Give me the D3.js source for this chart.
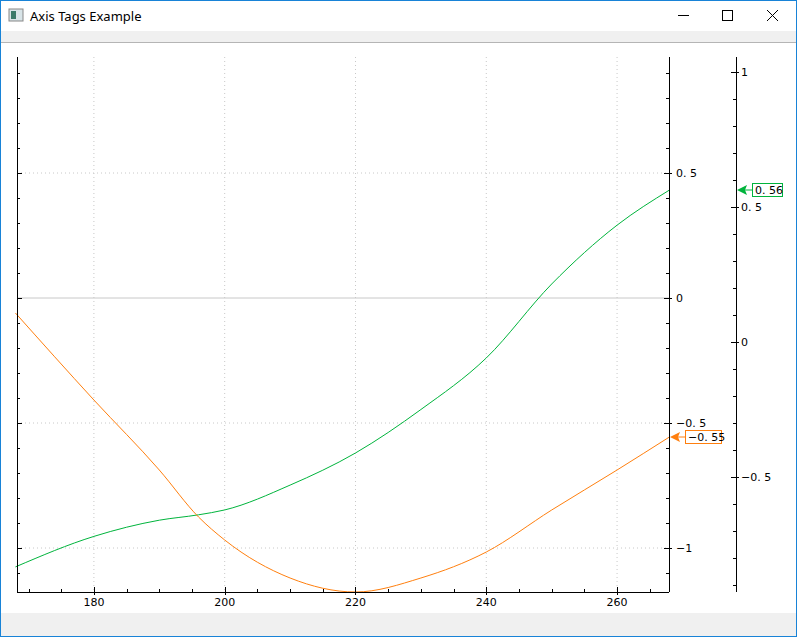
<!DOCTYPE html><html><head><meta charset="utf-8"><script src="https://cdn.jsdelivr.net/npm/d3@7"></script>
<style>body{margin:0;background:#fff}svg{display:block;font-family:"DejaVu Sans",sans-serif}</style></head><body><svg id="c" width="797" height="637"></svg>
<script>
const xs=[168,180,190,196,200,210,220,230,240,250,260,268];
const green=[-0.833,-0.72,-0.66,-0.64,-0.622,-0.53,-0.411,-0.25,-0.059,0.215,0.433,0.563];
const orange=[-0.06,-0.408,-0.688,-0.876,-0.968,-1.12,-1.176,-1.12,-1.016,-0.848,-0.688,-0.556];
const xTicks=[180,200,220,240,260];
const y1Ticks=[-1,-0.5,0,0.5];
const y2Ticks=[-0.5,0,0.5,1];
const greenTag="0.56", orangeTag="-0.55";
const svg=d3.select("#c");
// window chrome
svg.append("rect").attr("x",0.5).attr("y",0.5).attr("width",796).attr("height",636).attr("fill","#fff").attr("stroke","#1883d7");
svg.append("rect").attr("x",1).attr("y",31).attr("width",795).attr("height",11).attr("fill","#f0f0f0");
svg.append("line").attr("x1",1).attr("x2",796).attr("y1",42.5).attr("y2",42.5).attr("stroke","#b5b5b5");
svg.append("rect").attr("x",1).attr("y",613).attr("width",795).attr("height",23).attr("fill","#f0f0f0");
svg.append("rect").attr("x",9).attr("y",9).attr("width",14).attr("height",12).attr("fill","#d8e4e8").attr("stroke","#888");
svg.append("rect").attr("x",11).attr("y",11).attr("width",5).attr("height",8).attr("fill","#3a7a6a");
svg.append("text").attr("x",30).attr("y",21).attr("font-size",13).attr("font-family","Noto Sans, sans-serif").text("Axis Tags Example");
svg.append("line").attr("x1",678).attr("x2",689).attr("y1",15.5).attr("y2",15.5).attr("stroke","#000");
svg.append("rect").attr("x",722.5).attr("y",10.5).attr("width",10).attr("height",10).attr("fill","none").attr("stroke","#000");
svg.append("path").attr("d","M767,10L778,21M778,10L767,21").attr("stroke","#000");

const L=17,R=669,T=57,B=592,A2=736;
const x=d3.scaleLinear().domain([168.24,267.94]).range([L,R]);
const y1=d3.scaleLinear().domain([-1.176,0.964]).range([B,T]);
const y2=d3.scaleLinear().domain([-0.926,1.056]).range([B,T]);
const g=svg.append("g");
// grid
xTicks.forEach(t=>g.append("line").attr("x1",x(t)).attr("x2",x(t)).attr("y1",T).attr("y2",B).attr("stroke","#c8c8c8").attr("stroke-dasharray","1,3"));
y1Ticks.forEach(t=>g.append("line").attr("x1",L).attr("x2",R).attr("y1",y1(t)).attr("y2",y1(t)).attr("stroke",t===0?"#c8c8c8":"#c8c8c8").attr("stroke-dasharray",t===0?null:"1,3"));
// lines
const ln=(ys,sc)=>d3.line().curve(d3.curveMonotoneX).x((d,i)=>x(xs[i])).y(d=>sc(d))(ys);
g.append("path").attr("d",ln(green,y2)).attr("fill","none").attr("stroke","#00b43c");
g.append("path").attr("d",ln(orange,y1)).attr("fill","none").attr("stroke","#ff7f0e");
// axes
const ax=svg.append("g").attr("stroke","#000").attr("shape-rendering","crispEdges");
ax.append("line").attr("x1",L+.5).attr("x2",L+.5).attr("y1",T).attr("y2",B);
ax.append("line").attr("x1",R+.5).attr("x2",R+.5).attr("y1",T).attr("y2",B);
ax.append("line").attr("x1",A2+.5).attr("x2",A2+.5).attr("y1",T).attr("y2",B);
ax.append("line").attr("x1",L).attr("x2",R).attr("y1",B+.5).attr("y2",B+.5);
const range=(a,b,s)=>d3.range(Math.round(a/s),Math.round(b/s)+1).map(v=>+(v*s).toFixed(3));
range(-1.1,0.9,0.1).forEach(v=>{const yy=Math.round(y1(v))+.5;const maj=Math.abs(v*2-Math.round(v*2))<1e-6;
 ax.append("line").attr("x1",L).attr("x2",L+(maj?5:3)).attr("y1",yy).attr("y2",yy);
 ax.append("line").attr("x1",R-(maj?5:3)).attr("x2",R+(maj?3:0)).attr("y1",yy).attr("y2",yy);});
range(-0.9,1.0,0.1).forEach(v=>{const yy=Math.round(y2(v))+.5;const maj=Math.abs(v*2-Math.round(v*2))<1e-6;
 ax.append("line").attr("x1",A2-(maj?5:3)).attr("x2",A2+(maj?3:0)).attr("y1",yy).attr("y2",yy);});
range(170,265,5).forEach(v=>{const xx=Math.round(x(v))+.5;const maj=v%20===0;
 ax.append("line").attr("x1",xx).attr("x2",xx).attr("y1",B-(maj?5:3)).attr("y2",B+(maj?3:0));});
const fmt=v=>(v<0?"\u2212":"")+String(Math.abs(v)).replace(".",". ");
const tx=svg.append("g").attr("font-size",11);
y1Ticks.forEach(t=>tx.append("text").attr("x",R+7).attr("y",y1(t)+4).text(fmt(t)));
y2Ticks.forEach(t=>tx.append("text").attr("x",A2+5).attr("y",y2(t)+4).text(fmt(t)));
xTicks.forEach(t=>tx.append("text").attr("x",x(t)).attr("y",B+14).attr("text-anchor","middle").text(t));
// tags
function tag(ax0,yy,txt,col,w){
 svg.append("path").attr("d",`M${ax0},${yy}L${ax0+10},${yy-5}L${ax0+8},${yy}L${ax0+10},${yy+5}Z`).attr("fill",col);
 svg.append("line").attr("x1",ax0+8).attr("x2",ax0+15).attr("y1",yy).attr("y2",yy).attr("stroke",col);
 svg.append("rect").attr("x",ax0+15.5).attr("y",yy-6.5).attr("width",w).attr("height",13).attr("fill","#fff").attr("stroke",col);
 svg.append("text").attr("x",ax0+18).attr("y",yy+4).attr("font-size",11).text(txt);
}
tag(A2+1,Math.round(y2(green[green.length-1])),fmt(+greenTag),"#00b43c",30);
tag(R+1,Math.round(y1(orange[orange.length-1])),fmt(+orangeTag),"#ff7f0e",36);
</script></body></html>
